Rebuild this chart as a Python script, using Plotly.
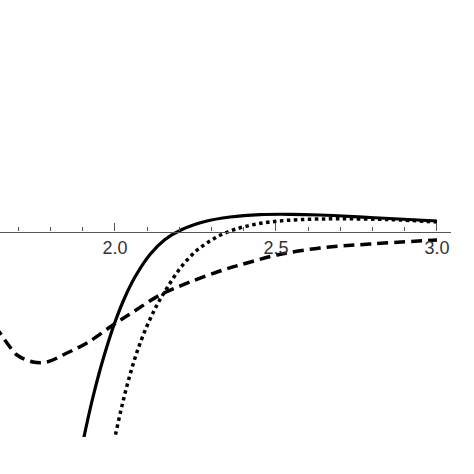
import plotly.graph_objects as go

# Solid curve
solid_x = [1.8913, 1.9037, 1.9286, 1.9534, 1.9783, 2.0, 2.0311, 2.0621, 2.1087, 2.1553, 2.2081, 2.2795, 2.3571,
           2.4503, 2.5435, 2.6366, 2.7919, 3.0]
solid_y = [-2.255, -2.055, -1.695, -1.385, -1.115, -0.905, -0.655, -0.455, -0.23, -0.08, 0.02, 0.10, 0.145,
           0.169, 0.172, 0.165, 0.14, 0.105]

# Dotted curve
dotted_x = [1.9876, 2.0, 2.0186, 2.0404, 2.0683, 2.0994, 2.1304, 2.1615, 2.2019, 2.2484, 2.295, 2.3416, 2.4037,
            2.4814, 2.5745, 2.6988, 2.854, 3.0]
dotted_y = [-2.235, -2.055, -1.785, -1.505, -1.205, -0.945, -0.735, -0.565, -0.37, -0.205, -0.095, -0.015, 0.05,
            0.095, 0.119, 0.127, 0.119, 0.095]

# Dashed curve
dashed_x = [1.6273, 1.6429, 1.6646, 1.6957, 1.7453, 1.7888, 1.8509, 1.913, 1.9938, 2.0559, 2.1398, 2.2329, 2.3354,
            2.4099, 2.5031, 2.6366, 2.7919, 3.0]
dashed_y = [-0.945, -1.015, -1.115, -1.235, -1.305, -1.305, -1.215, -1.115, -0.935, -0.805, -0.635, -0.505, -0.385,
            -0.315, -0.235, -0.165, -0.125, -0.085]

fig = go.Figure()
fig.add_trace(go.Scatter(x=solid_x, y=solid_y, mode="lines",
                         line=dict(color="black", width=3.2, shape="spline", smoothing=1.0)))
fig.add_trace(go.Scatter(x=dotted_x, y=dotted_y, mode="lines",
                         line=dict(color="black", width=3.5, dash="3.5px,3.5px", shape="spline", smoothing=1.0)))
fig.add_trace(go.Scatter(x=dashed_x, y=dashed_y, mode="lines",
                         line=dict(color="black", width=3.5, dash="11px,6px", shape="spline", smoothing=1.0)))

fig.update_layout(
    width=474, height=474,
    margin=dict(l=0, r=0, t=0, b=0),
    paper_bgcolor="white", plot_bgcolor="white",
    showlegend=False,
    xaxis=dict(
        domain=[0, 451 / 474],
        range=[1.6429, 3.0435],
        anchor="free", position=(474 - 231.5) / 474,
        showgrid=False, zeroline=False,
        showline=True, linecolor="#555", linewidth=1.2,
        tick0=2.0, dtick=0.5, tickformat=".1f",
        ticks="inside", ticklen=8, tickwidth=1.2, tickcolor="#555",
        minor=dict(dtick=0.1, ticks="inside", ticklen=4, tickwidth=1.2, tickcolor="#555"),
        tickfont=dict(family="Liberation Sans, Arial", size=18, color="#333"),
    ),
    yaxis=dict(
        domain=[37 / 474, 1],
        range=[-2.055, 2.315],
        visible=False,
    ),
)

fig.write_html("out.html", config={"displayModeBar": False},
               post_script="document.body.style.margin='0';document.body.style.overflow='hidden';")
